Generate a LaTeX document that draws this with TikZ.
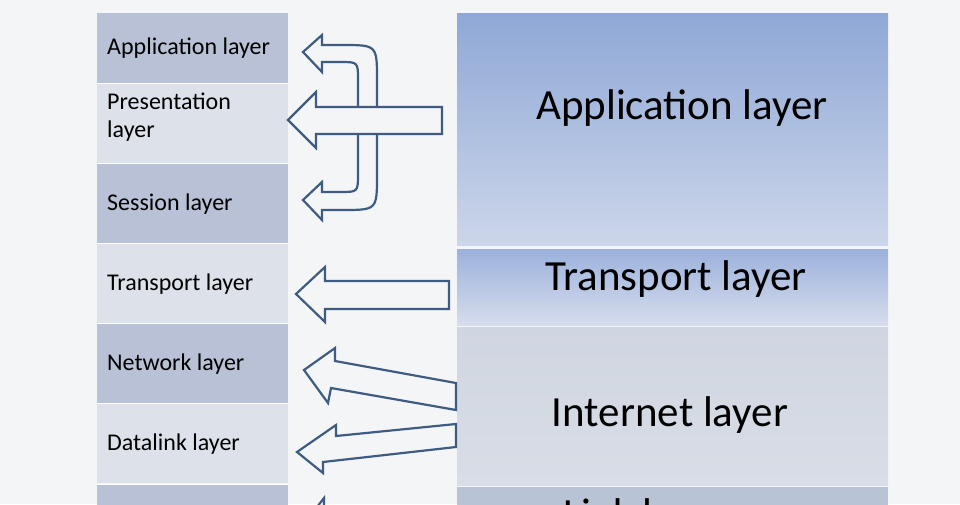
\documentclass[tikz,border=0pt]{standalone}
\usepackage{fontspec}
\setmainfont{Carlito}
\definecolor{bg}{HTML}{F4F5F6}
\definecolor{dk}{HTML}{B8C1D5}
\definecolor{lt}{HTML}{DDE1EA}
\definecolor{arr}{HTML}{3E5C82}
\definecolor{a1}{HTML}{8FA8D6}
\definecolor{a2}{HTML}{CCD6EA}
\definecolor{t1}{HTML}{9CB1DC}
\definecolor{t2}{HTML}{D6DDEC}
\definecolor{i1}{HTML}{D0D6E1}
\definecolor{i2}{HTML}{D8DDE6}
\definecolor{lk}{HTML}{B9C3D6}
\begin{document}
\begin{tikzpicture}[x=1pt,y=-1pt,
  small/.style={font=\fontsize{24}{28}\selectfont, anchor=west, align=left, inner sep=0},
  big/.style={font=\fontsize{43}{48}\selectfont, inner sep=0},
  arrowshape/.style={draw=arr, line width=2.2pt, fill=bg, line join=miter}]
\clip (0,0) rectangle (960,504);
\fill[bg] (0,0) rectangle (960,504);
% left column
\fill[dk] (97,13) rectangle (288,83);
\fill[lt] (97,83) rectangle (288,163);
\fill[dk] (97,163) rectangle (288,243);
\fill[lt] (97,243) rectangle (288,323);
\fill[dk] (97,323) rectangle (288,403);
\fill[lt] (97,403) rectangle (288,483);
\fill[dk] (97,485) rectangle (288,520);
\draw[white, line width=1pt] (97,83)--(288,83) (97,163)--(288,163) (97,243)--(288,243) (97,323)--(288,323) (97,403)--(288,403) (97,484)--(288,484);
\node[small] (l1) at (107,48) {Application layer};
\node[small] (l2) at (107,117) {Presentation\\layer};
\node[small] (l3) at (107,204) {Session layer};
\node[small] (l4) at (107,284) {Transport layer};
\node[small] (l5) at (107,364) {Network layer};
\node[small] (l6) at (107,444) {Datalink layer};
% right column
\shade[top color=a1, bottom color=a2] (457,13) rectangle (888,245);
\shade[top color=t1, bottom color=t2] (457,249) rectangle (888,325);
\shade[top color=i1, bottom color=i2] (457,327) rectangle (888,485);
\fill[lk] (457,487) rectangle (888,520);
\node[big] (r1) at (682,108) {Application layer};
\node[big] (r2) at (676,279) {Transport layer};
\node[big] (r3) at (670,415) {Internet layer};
\node[big, anchor=base west] (r4) at (563,528) {Link layer};
% U arrow
\draw[arrowshape] (303,52) -- (322,35) -- (322,45) -- (342,45) .. controls (377,45) .. (377,80) -- (377,175) .. controls (377,210) .. (342,210) -- (322,210) -- (322,220) -- (303,200) -- (322,182) -- (322,192) -- (340,192) .. controls (358,192) .. (358,174) -- (358,80) .. controls (358,62) .. (340,62) -- (322,62) -- (322,72) -- cycle;
% horizontal presentation arrow
\draw[arrowshape] (288,120) -- (316,92) -- (316,107) -- (442,107) -- (442,134) -- (316,134) -- (316,148) -- cycle;
% transport arrow
\draw[arrowshape] (296,294) -- (325,267) -- (325,281) -- (449,281) -- (449,309) -- (325,309) -- (325,322) -- cycle;
% network arrow
\draw[arrowshape] (304,370) -- (335,348) -- (335,361) -- (456,383) -- (456,410) -- (331,388) -- (328,403) -- cycle;
% datalink arrow
\draw[arrowshape] (297,452) -- (336,425) -- (336,436) -- (456,424) -- (456,447) -- (323,462) -- (323,473) -- cycle;
% link arrow (partial)
\draw[arrowshape] (317,507) -- (324,498) -- (324,530) -- cycle;
\end{tikzpicture}
\end{document}
